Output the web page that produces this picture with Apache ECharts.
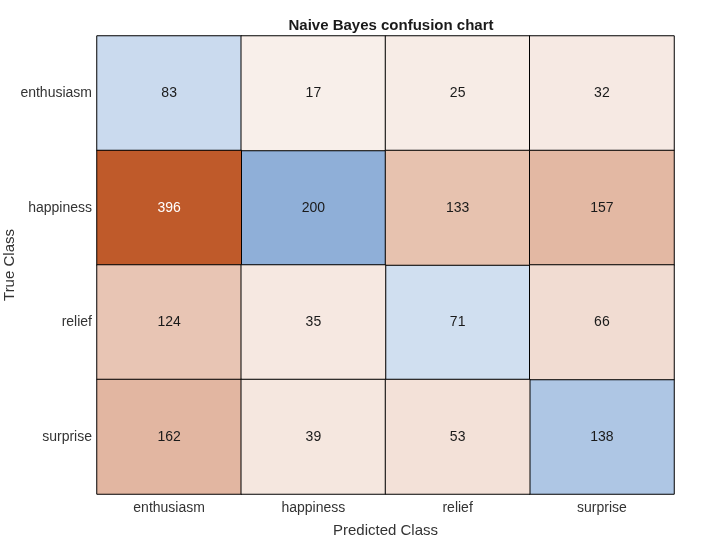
<!DOCTYPE html>
<html>
<head>
<meta charset="utf-8">
<script src="https://cdn.jsdelivr.net/npm/echarts@6/dist/echarts.min.js"></script>
<style>html,body{margin:0;padding:0;background:#fff}#c{width:715px;height:539px}</style>
</head>
<body>
<div id="c"></div>
<script>
var classes = ['enthusiasm', 'happiness', 'relief', 'surprise'];
var row_enthusiasm = [83, 17, 25, 32];
var row_happiness = [396, 200, 133, 157];
var row_relief = [124, 35, 71, 66];
var row_surprise = [162, 39, 53, 138];
var rows = [row_enthusiasm, row_happiness, row_relief, row_surprise];
var yAxisTitle = 'True Class';

var maxVal = 0;
rows.forEach(function(r){ r.forEach(function(v){ if (v > maxVal) maxVal = v; }); });

var diag = [], off = [];
rows.forEach(function(r, yi){
  r.forEach(function(v, xi){
    var item = {value: [xi, yi, v], label: {color: v / maxVal > 0.7 ? '#fff' : '#1a1a1a'}};
    if (xi === yi) diag.push(item); else off.push(item);
  });
});

var font = 'Liberation Sans, Arial, sans-serif';
var chart = echarts.init(document.getElementById('c'), null, {renderer: 'canvas'});
chart.setOption({
  animation: false,
  title: {
    text: 'Naive Bayes confusion chart',
    left: 386, top: 13, textAlign: 'center',
    textStyle: {fontSize: 15, fontWeight: 'bold', color: '#1a1a1a', fontFamily: font}
  },
  graphic: [{
    type: 'text', x: 10, y: 265, rotation: Math.PI / 2,
    style: {text: yAxisTitle, fill: '#333', font: '15px ' + font, align: 'center', verticalAlign: 'middle'}
  }],
  grid: {left: 97, top: 36, width: 577, height: 458, outerBoundsMode: 'none', containLabel: false},
  xAxis: {
    type: 'category', data: classes,
    name: 'Predicted Class', nameLocation: 'middle', nameGap: 29,
    nameTextStyle: {fontSize: 15, color: '#333', fontFamily: font},
    axisLine: {show: false}, axisTick: {show: false},
    axisLabel: {fontSize: 14, color: '#333', margin: 7, fontFamily: font},
    splitLine: {show: false}
  },
  yAxis: {
    type: 'category', data: classes, inverse: true,
    axisLine: {show: false}, axisTick: {show: false},
    axisLabel: {fontSize: 14, color: '#333', margin: 5, fontFamily: font},
    splitLine: {show: false}
  },
  visualMap: [
    {show: false, type: 'continuous', seriesIndex: 0, dimension: 2, min: 0, max: maxVal,
     inRange: {color: ['#f4f9fd', '#2c66b4']}},
    {show: false, type: 'continuous', seriesIndex: 1, dimension: 2, min: 0, max: maxVal,
     inRange: {color: ['#fbf6f3', '#bf5a2a']}}
  ],
  series: [
    {type: 'heatmap', data: diag,
     itemStyle: {borderColor: '#000', borderWidth: 1},
     label: {show: true, fontSize: 14, fontFamily: font}},
    {type: 'heatmap', data: off,
     itemStyle: {borderColor: '#000', borderWidth: 1},
     label: {show: true, fontSize: 14, fontFamily: font}}
  ]
});
</script>
</body>
</html>
